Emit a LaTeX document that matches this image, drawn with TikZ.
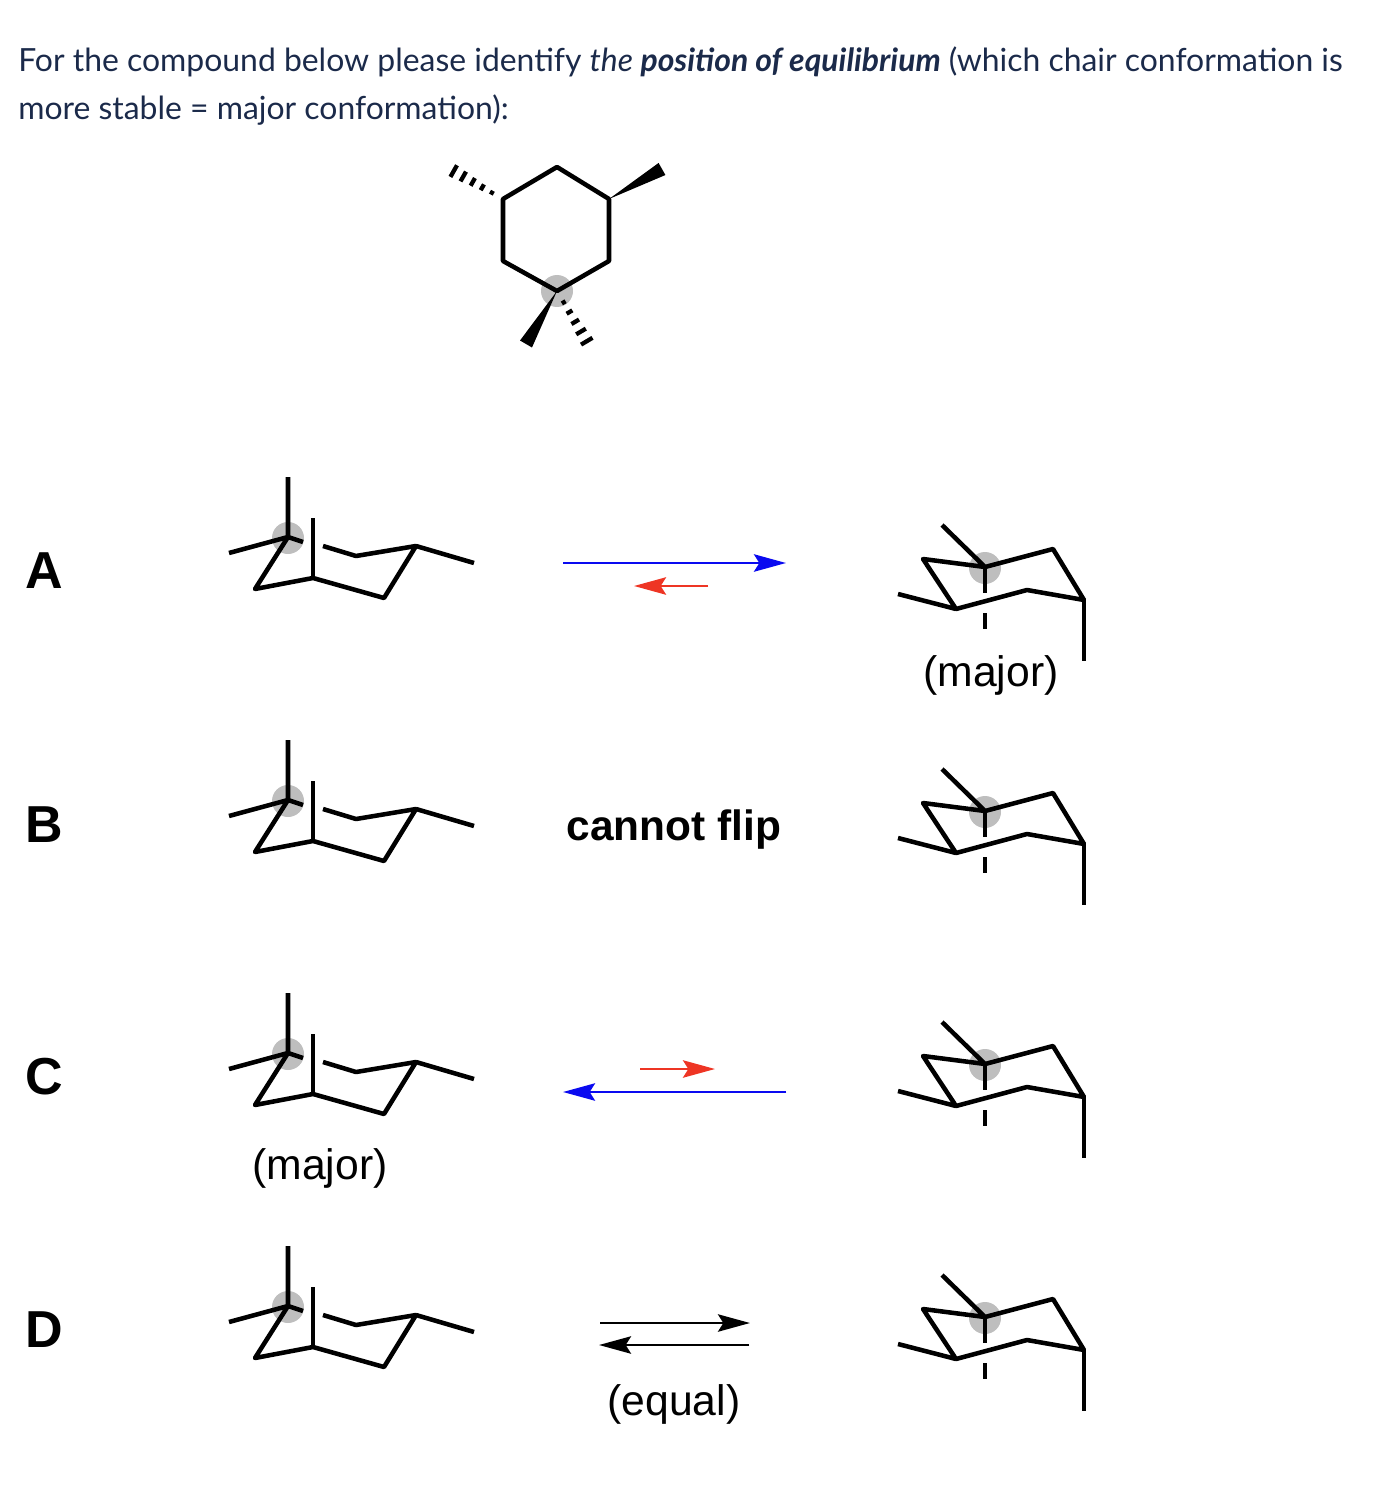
\documentclass[tikz,border=0pt]{standalone}
\usepackage{fontspec}
\setmainfont{Lato}
\newfontfamily\labelfont{Liberation Sans}
\usetikzlibrary{calc, arrows.meta}
\definecolor{textnavy}{HTML}{1B2A4A}
\definecolor{flipblue}{HTML}{0A0AF0}
\definecolor{flipred}{HTML}{EE3524}
\definecolor{centergray}{HTML}{BEBEBE}

\newcommand{\hashbond}[2]{
  \foreach \t/\w in {0.21/1.6pt,0.39/2.5pt,0.57/3.3pt,0.75/4.2pt,0.93/5pt} {
    \coordinate (hashpt) at ($(#1)!\t!(#2)$);
    \draw[hash] ($(hashpt)!\w!90:(#2)$) -- ($(hashpt)!\w!-90:(#2)$);
  }
}
\newcommand{\wedgebond}[2]{
  \fill (#1) -- ($(#2)!5.2pt!90:(#1)$) -- ($(#2)!5.2pt!-90:(#1)$) -- cycle;
}

\begin{document}
\begin{tikzpicture}[x=0.75pt,y=-0.75pt]
\tikzset{
    bond/.style={line width=3.4pt,line join=round},
    hash/.style={line width=3.2pt},
    center/.style={circle,fill=centergray,minimum size=24pt,inner sep=0pt},
    question/.style={anchor=base west,inner sep=0pt,text=textnavy,font=\fontsize{23.93pt}{30pt}\selectfont},
    rowlabel/.style={font=\labelfont\bfseries\fontsize{39pt}{42pt}\selectfont},
    note/.style={font=\labelfont\fontsize{32pt}{36pt}\selectfont},
    bluearrow/.style={draw=flipblue,fill=flipblue,line width=2.1pt,-{Stealth[length=24pt,width=13pt,inset=4pt]}},
    redarrow/.style={draw=flipred,fill=flipred,line width=2.1pt,-{Stealth[length=24pt,width=13pt,inset=4pt]}},
    blackarrow/.style={draw=black,fill=black,line width=2.1pt,-{Stealth[length=24pt,width=13pt,inset=4pt]}},
    leftchair/.pic={
      \node[center] (-gray) at (288,538) {};
      \coordinate (-up) at (288,477);
      \coordinate (-c1) at (288,537);
      \coordinate (-me) at (229,553);
      \coordinate (-c2) at (255,589);
      \coordinate (-c3) at (313,578);
      \coordinate (-ax) at (313,518);
      \coordinate (-c4) at (384,598);
      \coordinate (-c5) at (416,546);
      \coordinate (-me2) at (474,563);
      \coordinate (-c6) at (356,556);
      \coordinate (-gap1) at (323,546);
      \coordinate (-gap2) at (303,542);
      \draw[bond] (-up) -- (-c1) -- (-me);
      \draw[bond] (-gap2) -- (-c1) -- (-c2) -- (-c3) -- (-c4) -- (-c5) -- (-c6) -- (-gap1);
      \draw[bond] (-c5) -- (-me2);
      \draw[bond] (-ax) -- (-c3);
    },
    rightchair/.pic={
      \node[center] (-gray) at (985,568) {};
      \coordinate (-out) at (942,525);
      \coordinate (-c1) at (985,567);
      \coordinate (-c2) at (923,559);
      \coordinate (-c3) at (956,609);
      \coordinate (-me) at (898,594);
      \coordinate (-c4) at (1027,590);
      \coordinate (-c5) at (1084,600);
      \coordinate (-ax) at (1084,661);
      \coordinate (-c6) at (1053,549);
      \coordinate (-d1) at (985,593);
      \coordinate (-d2) at (985,613);
      \coordinate (-d3) at (985,629);
      \draw[bond] (-out) -- (-c1) -- (-c2) -- (-c3) -- (-c4) -- (-c5) -- (-c6) -- (-c1);
      \draw[bond] (-me) -- (-c3);
      \draw[bond] (-c5) -- (-ax);
      \draw[bond] (-c1) -- (-d1);
      \draw[bond] (-d2) -- (-d3);
    },
}
\useasboundingbox (0,0) rectangle (1374,1494);
% question
\node (line1) [question] at (18,72) {For the compound below please identify \textit{the \textbf{position of equilibrium}} (which chair conformation is};
\node (line2) [question] at (18,120) {more stable = major conformation):};

% compound
\node[center] (gray) at (557,291) {};
\coordinate (r1) at (557,167);
\coordinate (r2) at (609,199);
\coordinate (r3) at (609,261);
\coordinate (r4) at (557,291);
\coordinate (r5) at (503,261);
\coordinate (r6) at (503,199);
\coordinate (wedge1) at (662,169);
\coordinate (wedge2) at (526,344);
\coordinate (hash1) at (450,169);
\coordinate (hash2) at (589,345);
\draw[bond] (r1) -- (r2) -- (r3) -- (r4) -- (r5) -- (r6) -- cycle;
\wedgebond{r2}{wedge1}
\wedgebond{r4}{wedge2}
\hashbond{r6}{hash1}
\hashbond{r4}{hash2}

% rows
\node[rowlabel] (labela) at (44,571) {A};
\node[rowlabel] (labelb) at (44,825) {B};
\node[rowlabel] (labelc) at (44,1077) {C};
\node[rowlabel] (labeld) at (44,1330) {D};

\pic (la) at (0,0) {leftchair};
\pic (lb) at (0,263) {leftchair};
\pic (lc) at (0,516) {leftchair};
\pic (ld) at (0,769) {leftchair};
\pic (ra) at (0,0) {rightchair};
\pic (rb) at (0,244) {rightchair};
\pic (rc) at (0,497) {rightchair};
\pic (rd) at (0,750) {rightchair};

% row A
\coordinate (ablue1) at (563,563);
\coordinate (ablue2) at (786,563);
\coordinate (ared1) at (708,586);
\coordinate (ared2) at (634,586);
\draw[bluearrow] (ablue1) -- (ablue2);
\draw[redarrow] (ared1) -- (ared2);
\node[note] (amajor) at (991,675) {(major)};

% row B
\node[font=\labelfont\bfseries\fontsize{31.8pt}{36pt}\selectfont] (flip) at (674,830) {cannot flip};

% row C
\coordinate (cred1) at (640,1069);
\coordinate (cred2) at (715,1069);
\coordinate (cblue1) at (786,1092);
\coordinate (cblue2) at (563,1092);
\draw[redarrow] (cred1) -- (cred2);
\draw[bluearrow] (cblue1) -- (cblue2);
\node[note] (cmajor) at (320,1168) {(major)};

% row D
\coordinate (dtop1) at (600,1323);
\coordinate (dtop2) at (750,1323);
\coordinate (dbot1) at (749,1345);
\coordinate (dbot2) at (599,1345);
\draw[blackarrow] (dtop1) -- (dtop2);
\draw[blackarrow] (dbot1) -- (dbot2);
\node[note] (equal) at (674,1404) {(equal)};
\end{tikzpicture}
\end{document}
